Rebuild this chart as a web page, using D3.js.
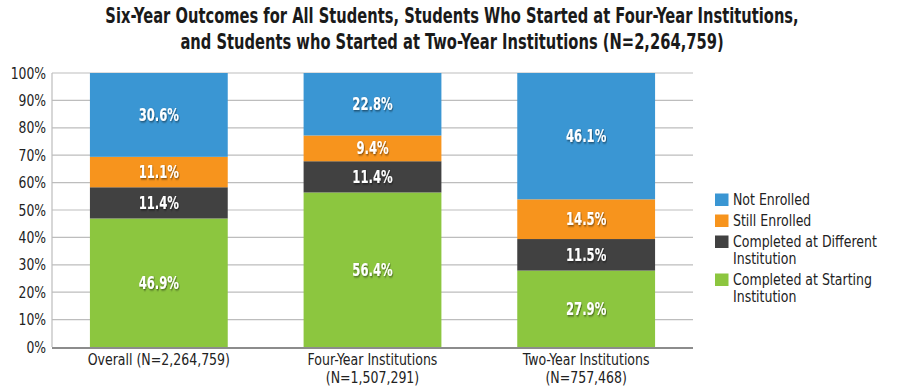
<!DOCTYPE html>
<html><head><meta charset="utf-8">
<script src="https://cdn.jsdelivr.net/npm/d3@7"></script>
<style>
html,body{margin:0;padding:0;background:#fff;}
text{font-family:"Liberation Sans Narrow","DejaVu Sans Condensed","Liberation Sans",sans-serif;}
</style></head>
<body><svg id="c" width="900" height="388"></svg>
<script>
const categories = ["Overall (N=2,264,759)", "Four-Year Institutions\n(N=1,507,291)", "Two-Year Institutions\n(N=757,468)"];
const seriesNames = ["Completed at Starting Institution", "Completed at Different Institution", "Still Enrolled", "Not Enrolled"];
const completedStarting = [46.9, 56.4, 27.9];
const completedDifferent = [11.4, 11.4, 11.5];
const stillEnrolled = [11.1, 9.4, 14.5];
const notEnrolled = [30.6, 22.8, 46.1];
const yTicks = [0,10,20,30,40,50,60,70,80,90,100];
const legendLabels = [["Not Enrolled"],["Still Enrolled"],["Completed at Different","Institution"],["Completed at Starting","Institution"]];
const titleLines = ["Six-Year Outcomes for All Students, Students Who Started at Four-Year Institutions,",
                    "and Students who Started at Two-Year Institutions (N=2,264,759)"];
const colors = ["#8cc63f","#414141","#f7941d","#3a96d3"];
const legendColors = ["#3a96d3","#f7941d","#414141","#8cc63f"];

const svg = d3.select("#c");
const defs = svg.append("defs");
const f = defs.append("filter").attr("id","sh").attr("x","-20%").attr("y","-30%").attr("width","140%").attr("height","160%");
f.append("feDropShadow").attr("dx",1).attr("dy",1.2).attr("stdDeviation",1).attr("flood-color","#000").attr("flood-opacity",0.55);

// horizontally condense a text about its anchor x
function squeeze(sel, k){
  sel.each(function(){
    const t = d3.select(this); const ax = +t.attr("x");
    t.attr("transform",`translate(${ax},0) scale(${k},1) translate(${-ax},0)`);
  });
}
function fitWidth(sel, w){
  sel.each(function(){
    const len = this.getComputedTextLength();
    squeeze(d3.select(this), w/len);
  });
}

const x0 = 52, x1 = 693, yTop = 73, yBot = 347;
const x = d3.scaleBand().domain(categories).range([x0, x1]).paddingInner(0.355).paddingOuter(0.1775);
const y = d3.scaleLinear().domain([0,100]).range([yBot, yTop]);

// title
const title = svg.append("g").attr("font-weight","bold").attr("fill","#1a1a1a").attr("text-anchor","middle");
const titleW = [694, 544];
titleLines.forEach((ln,i)=>{
  const t = title.append("text").attr("x",452).attr("y",i?49:23).attr("font-size",22).text(ln);
  fitWidth(t, titleW[i]);
});

// grid
const grid = svg.append("g");
grid.selectAll("line").data(yTicks.filter(d=>d>0)).join("line")
  .attr("x1",x0).attr("x2",x1).attr("y1",d=>y(d)).attr("y2",d=>y(d))
  .attr("stroke","#bdbdbd").attr("stroke-width",1.2);
svg.append("line").attr("x1",x0).attr("x2",x0).attr("y1",yTop).attr("y2",yBot).attr("stroke","#bdbdbd").attr("stroke-width",1.2);

// y axis
const yAxis = d3.axisLeft(y).tickValues(yTicks).tickFormat(d=>d+"%").tickSize(0).tickPadding(6);
const ya = svg.append("g").attr("transform",`translate(${x0},0)`).call(yAxis);
ya.select(".domain").remove();
ya.selectAll("text").attr("font-size",16).attr("fill","#222").attr("font-family",null);
squeeze(ya.selectAll("text"), 0.86);

// stack
const rows = categories.map((c,i)=>({cat:c, s0:completedStarting[i], s1:completedDifferent[i], s2:stillEnrolled[i], s3:notEnrolled[i]}));
const stack = d3.stack().keys(["s0","s1","s2","s3"])(rows);
const gBars = svg.append("g");
stack.forEach((layer,li)=>{
  gBars.selectAll(null).data(layer).join("rect")
    .attr("x",d=>x(d.data.cat)).attr("width",x.bandwidth())
    .attr("y",d=>y(d[1])).attr("height",d=>y(d[0])-y(d[1]))
    .attr("fill",colors[li]);
});
stack.forEach((layer,li)=>{
  const lab = gBars.selectAll(null).data(layer).join("text")
    .attr("x",d=>x(d.data.cat)+x.bandwidth()/2).attr("y",d=>(y(d[0])+y(d[1]))/2)
    .attr("dy","0.36em").attr("text-anchor","middle").attr("font-size",17).attr("font-weight","bold")
    .attr("fill","#fff").attr("filter","url(#sh)")
    .text(d=>(d[1]-d[0]).toFixed(1)+"%");
  squeeze(lab, 0.76);
});

// x axis baseline
svg.append("line").attr("x1",x0).attr("x2",x1).attr("y1",yBot+1).attr("y2",yBot+1).attr("stroke","#8c8c8c").attr("stroke-width",2);
const xl = svg.append("g").attr("text-anchor","middle").attr("font-size",15.5).attr("fill","#222");
categories.forEach(c=>{
  c.split("\n").forEach((ln,i)=>{
    const t = xl.append("text").attr("x",x(c)+x.bandwidth()/2).attr("y",365.5+i*18).text(ln);
    squeeze(t, 0.9);
  });
});

// legend
const lg = svg.append("g");
let ly = 193.5;
legendLabels.forEach((lines,i)=>{
  lg.append("rect").attr("x",715).attr("y",ly).attr("width",13.5).attr("height",12.5).attr("fill",legendColors[i]);
  lines.forEach((ln,j)=>{
    const t = lg.append("text").attr("x",733).attr("y",ly+12+j*17).attr("font-size",15).attr("fill","#222").text(ln);
    squeeze(t, 0.93);
  });
  ly += lines.length===1 ? 21 : 38;
});
</script></body></html>
